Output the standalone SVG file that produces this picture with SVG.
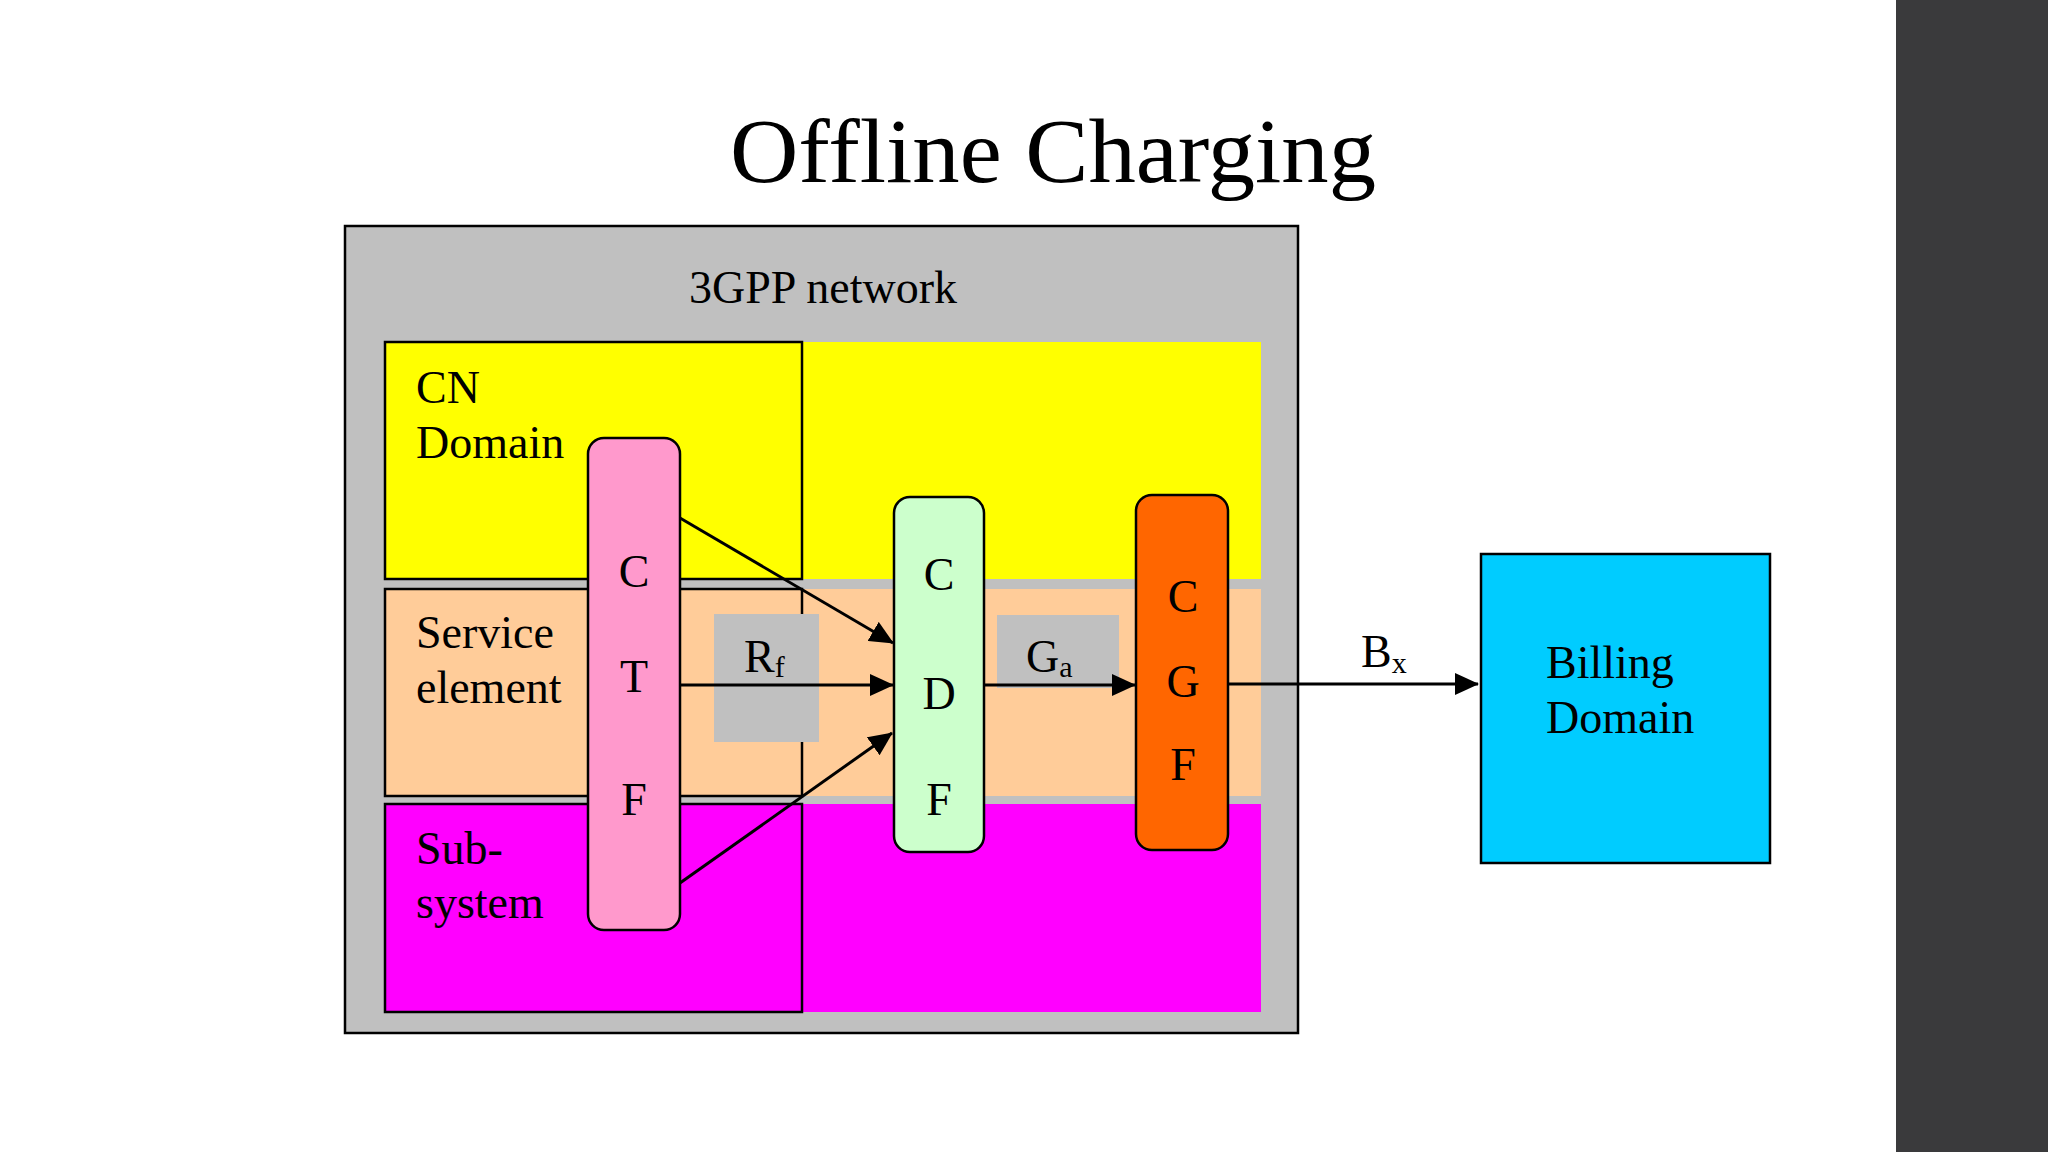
<svg xmlns="http://www.w3.org/2000/svg" width="2048" height="1152" viewBox="0 0 2048 1152">
<defs>
<marker id="ah" markerUnits="userSpaceOnUse" markerWidth="24" markerHeight="22" refX="23" refY="11" orient="auto">
<path d="M0,0 L24,11 L0,22 z" fill="#000"/>
</marker>
<style>
.t{font-family:"Liberation Serif","Times New Roman",serif;fill:#000;}
.lbl{font-size:46px;}
.let{font-size:46px;text-anchor:middle;}
.bx{stroke:#000;stroke-width:2.5;}
.conn{stroke:#000;stroke-width:3;fill:none;marker-end:url(#ah);}
</style>
</defs>
<rect x="0" y="0" width="2048" height="1152" fill="#fff"/>
<rect x="1896" y="0" width="152" height="1152" fill="#3a3a3c"/>
<text class="t" x="1053" y="182" font-size="92" text-anchor="middle" textLength="646" lengthAdjust="spacingAndGlyphs">Offline Charging</text>

<g id="network">
<rect x="345" y="226" width="953" height="807" fill="#C0C0C0" class="bx"/>
<text class="t" x="823" y="303" font-size="46" text-anchor="middle">3GPP network</text>
</g>

<g id="bands">
<rect x="802" y="342" width="459" height="237" fill="#FFFF00"/>
<rect x="802" y="589" width="459" height="207" fill="#FFCC99"/>
<rect x="802" y="804" width="459" height="208" fill="#FF00FF"/>
</g>

<g id="cn-domain">
<rect x="385" y="342" width="417" height="237" fill="#FFFF00" class="bx"/>
<text class="t lbl" x="416" y="403">CN</text>
<text class="t lbl" x="416" y="458">Domain</text>
</g>
<g id="service-element">
<rect x="385" y="589" width="417" height="207" fill="#FFCC99" class="bx"/>
<text class="t lbl" x="416" y="648">Service</text>
<text class="t lbl" x="416" y="703">element</text>
</g>
<g id="subsystem">
<rect x="385" y="804" width="417" height="208" fill="#FF00FF" class="bx"/>
<text class="t lbl" x="416" y="864">Sub-</text>
<text class="t lbl" x="416" y="918">system</text>
</g>

<g id="rf-label">
<rect x="714" y="614" width="105" height="128" fill="#C0C0C0"/>
<text class="t" x="744" y="672" font-size="46">R<tspan font-size="30" dy="5">f</tspan></text>
</g>
<g id="ga-label">
<rect x="997" y="615" width="122" height="73" fill="#C0C0C0"/>
<text class="t" x="1026" y="672" font-size="46">G<tspan font-size="30" dy="5">a</tspan></text>
</g>

<g id="ctf">
<rect x="588" y="438" width="92" height="492" rx="16" ry="16" fill="#FF99CC" class="bx"/>
<text class="t let" x="634" y="587">C</text>
<text class="t let" x="634" y="692">T</text>
<text class="t let" x="634" y="815">F</text>
</g>
<g id="cdf">
<rect x="894" y="497" width="90" height="355" rx="16" ry="16" fill="#CCFFCC" class="bx"/>
<text class="t let" x="939" y="590">C</text>
<text class="t let" x="939" y="709">D</text>
<text class="t let" x="939" y="815">F</text>
</g>
<g id="cgf">
<rect x="1136" y="495" width="92" height="355" rx="16" ry="16" fill="#FF6600" class="bx"/>
<text class="t let" x="1183" y="612">C</text>
<text class="t let" x="1183" y="697">G</text>
<text class="t let" x="1183" y="780">F</text>
</g>

<g id="billing">
<rect x="1481" y="554" width="289" height="309" fill="#00CCFF" class="bx"/>
<text class="t lbl" x="1546" y="678">Billing</text>
<text class="t lbl" x="1546" y="733">Domain</text>
</g>

<g id="connectors">
<line class="conn" x1="680" y1="518" x2="893" y2="643"/>
<line class="conn" x1="680" y1="685" x2="893" y2="685"/>
<line class="conn" x1="680" y1="883" x2="892" y2="733"/>
<line class="conn" x1="984" y1="685" x2="1135" y2="685"/>
<line class="conn" x1="1228" y1="684" x2="1478" y2="684"/>
<text class="t" x="1361" y="667" font-size="46">B<tspan font-size="30" dy="6">x</tspan></text>
</g>
</svg>
